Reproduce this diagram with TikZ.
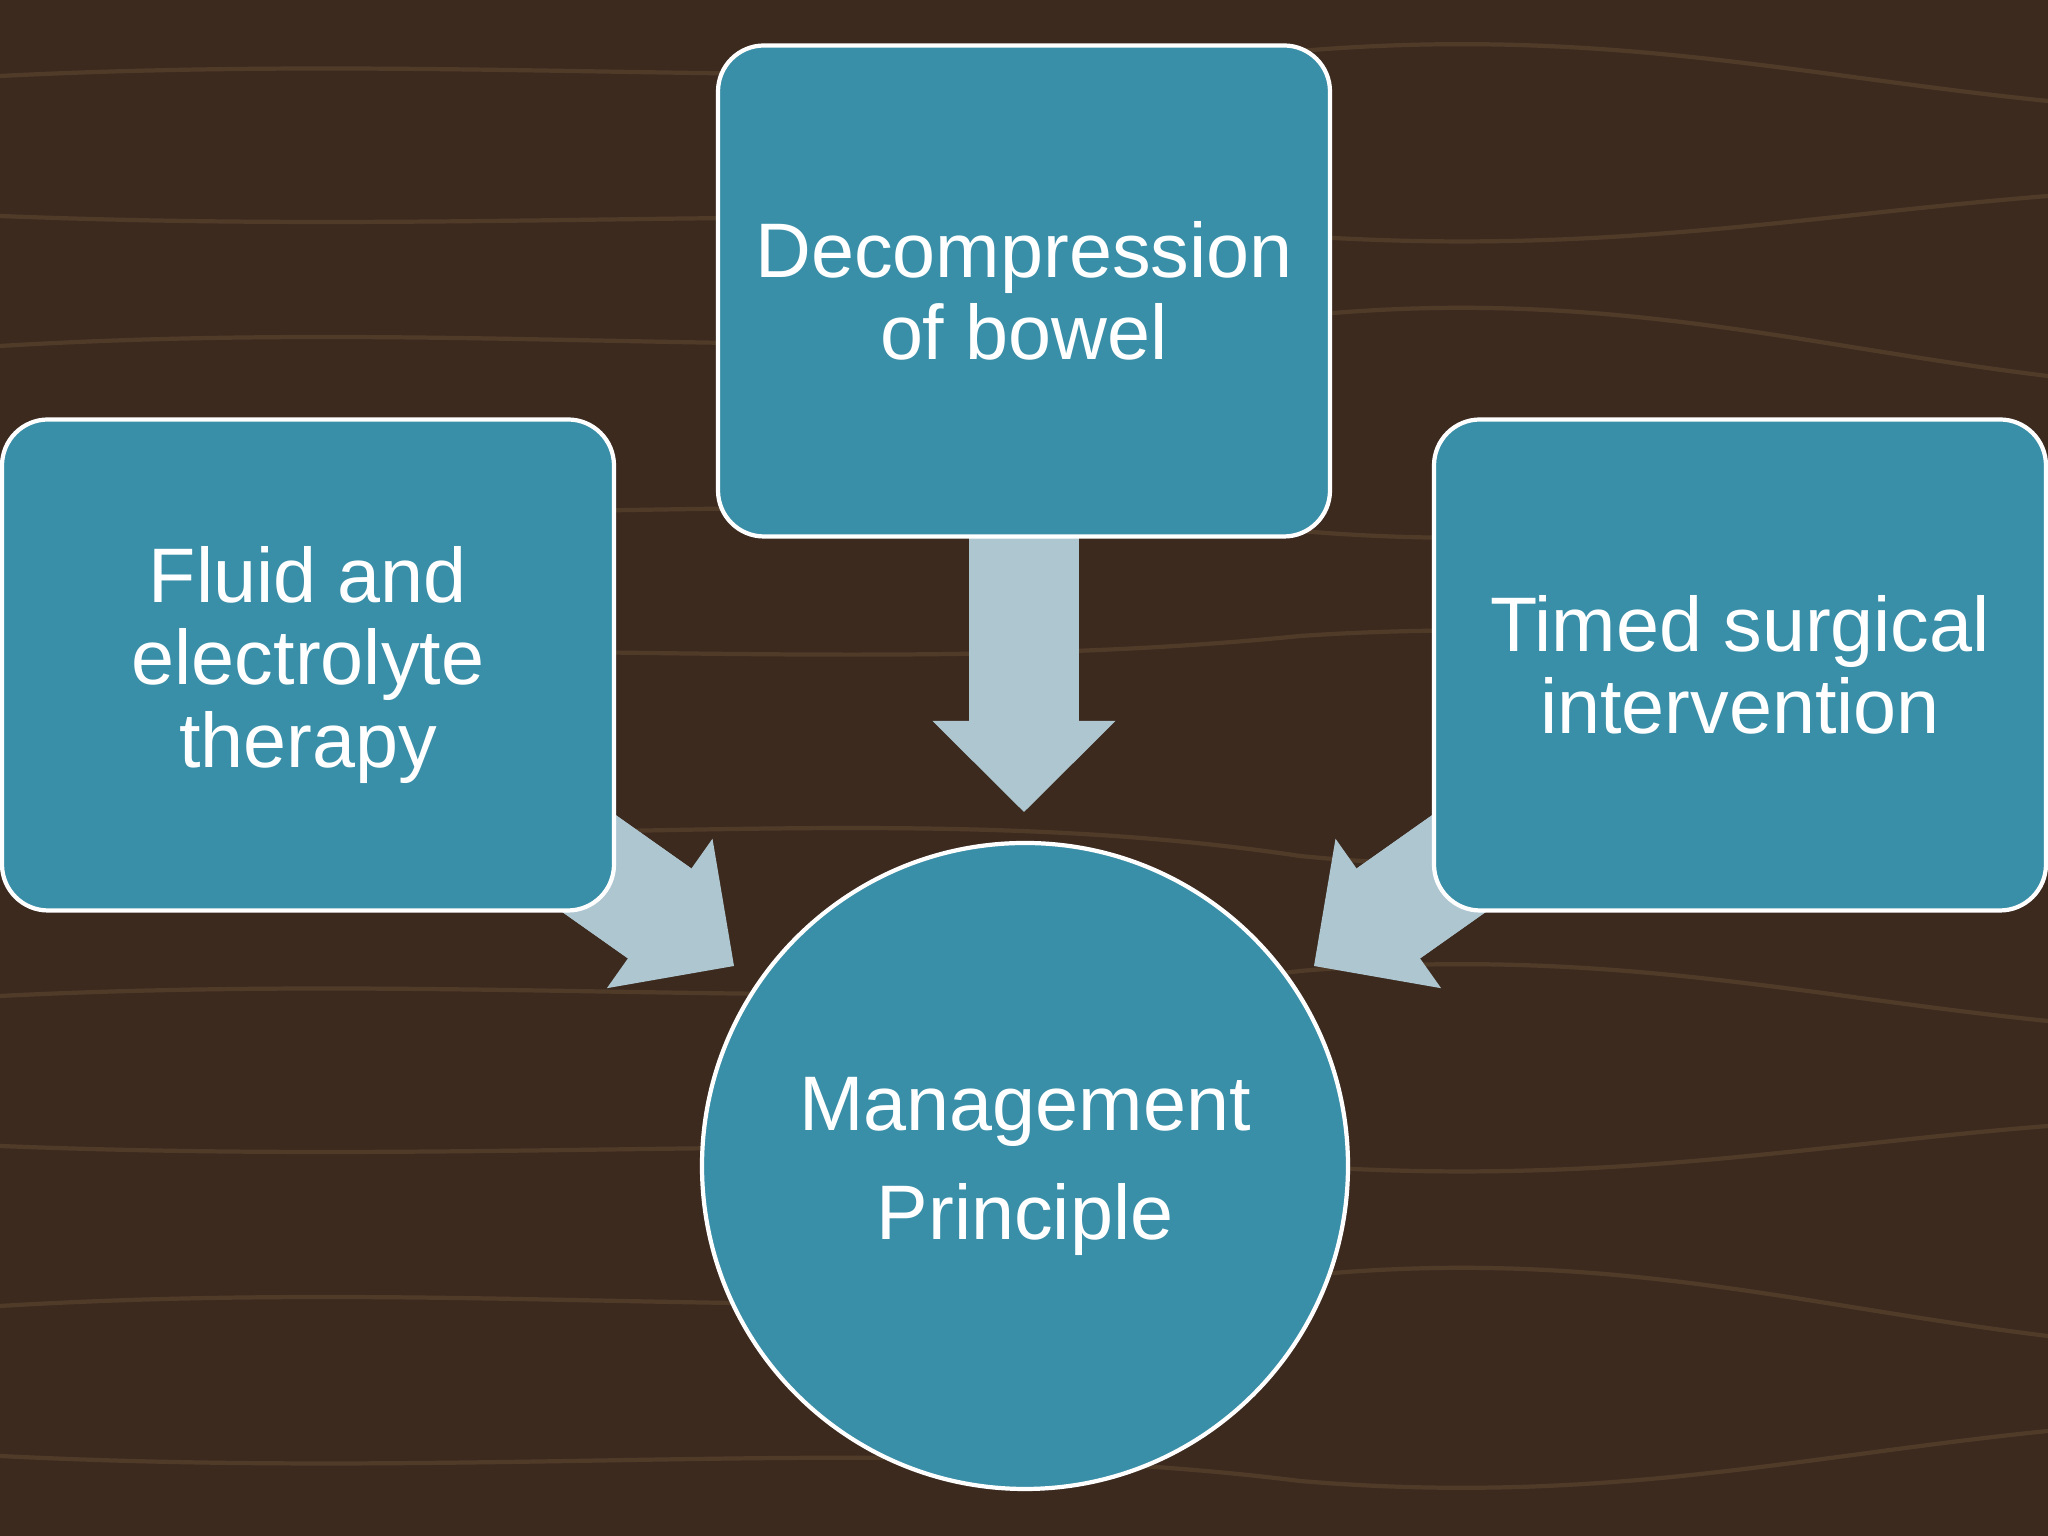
\documentclass[tikz,border=0pt]{standalone}
\usepackage{fontspec}
\setmainfont{Liberation Sans}
\usetikzlibrary{arrows.meta,backgrounds}
\definecolor{wood}{HTML}{3C2A1F}
\definecolor{grain}{HTML}{6A5035}
\definecolor{boxteal}{HTML}{3A8FA8}
\definecolor{arrowgrey}{HTML}{AEC6D0}

\begin{document}
\begin{tikzpicture}[x=1cm,y=1cm,
  box/.style={draw=white,line width=1.2pt,fill=boxteal,rounded corners=0.46cm,
    minimum width=6.12cm,minimum height=4.91cm,align=center,text=white,
    font=\fontsize{22}{23.5}\selectfont},
  hub/.style={circle,draw=white,line width=1.2pt,fill=boxteal,minimum size=6.46cm,
    align=center,text=white,font=\fontsize{22}{31}\selectfont},
  shaft/.style={arrowgrey,line width=1.1cm,shorten >=0.78cm},
  flow/.style={arrowgrey,line width=1.1cm,-{Triangle[width=1.83cm,length=0.91cm,line width=0pt]}}]
  \useasboundingbox (0,0) rectangle (20.48,15.36);
  \node[box] (decomp) at (10.24,12.45) {Decompression\\of bowel};
  \node[box] (fluid) at (3.08,8.71) {Fluid and\\electrolyte\\therapy};
  \node[box] (surgery) at (17.40,8.71) {Timed surgical\\intervention};
  \node[hub] (mgmt) at (10.25,3.70) {Management\\Principle};
  \coordinate (tipd) at (10.24,7.24);
  \coordinate (tipl) at (7.34,5.70);
  \coordinate (tipr) at (13.14,5.70);
  \begin{scope}[on background layer]
    \fill[wood] (0,0) rectangle (20.48,15.36);
    \foreach \y/\a in {14.6/0.25,13.2/-0.2,11.9/0.3,10.3/-0.25,8.8/0.2,7.1/-0.3,5.4/0.25,3.9/-0.2,2.3/0.3,0.8/-0.25} {
      \draw[grain,line width=1.2pt,opacity=0.45] (0,\y) .. controls (5,\y+\a) and (9,\y-\a) .. (13,\y+\a) .. controls (16,\y+2*\a) and (18,\y) .. (20.48,\y-\a);
    }
    \draw[flow] (decomp.center) -- (tipd);
    \draw[flow] (fluid.center) -- (tipl);
    \draw[flow] (surgery.center) -- (tipr);
    \draw[shaft] (decomp.center) -- (tipd);
    \draw[shaft] (fluid.center) -- (tipl);
    \draw[shaft] (surgery.center) -- (tipr);
  \end{scope}
\end{tikzpicture}
\end{document}
